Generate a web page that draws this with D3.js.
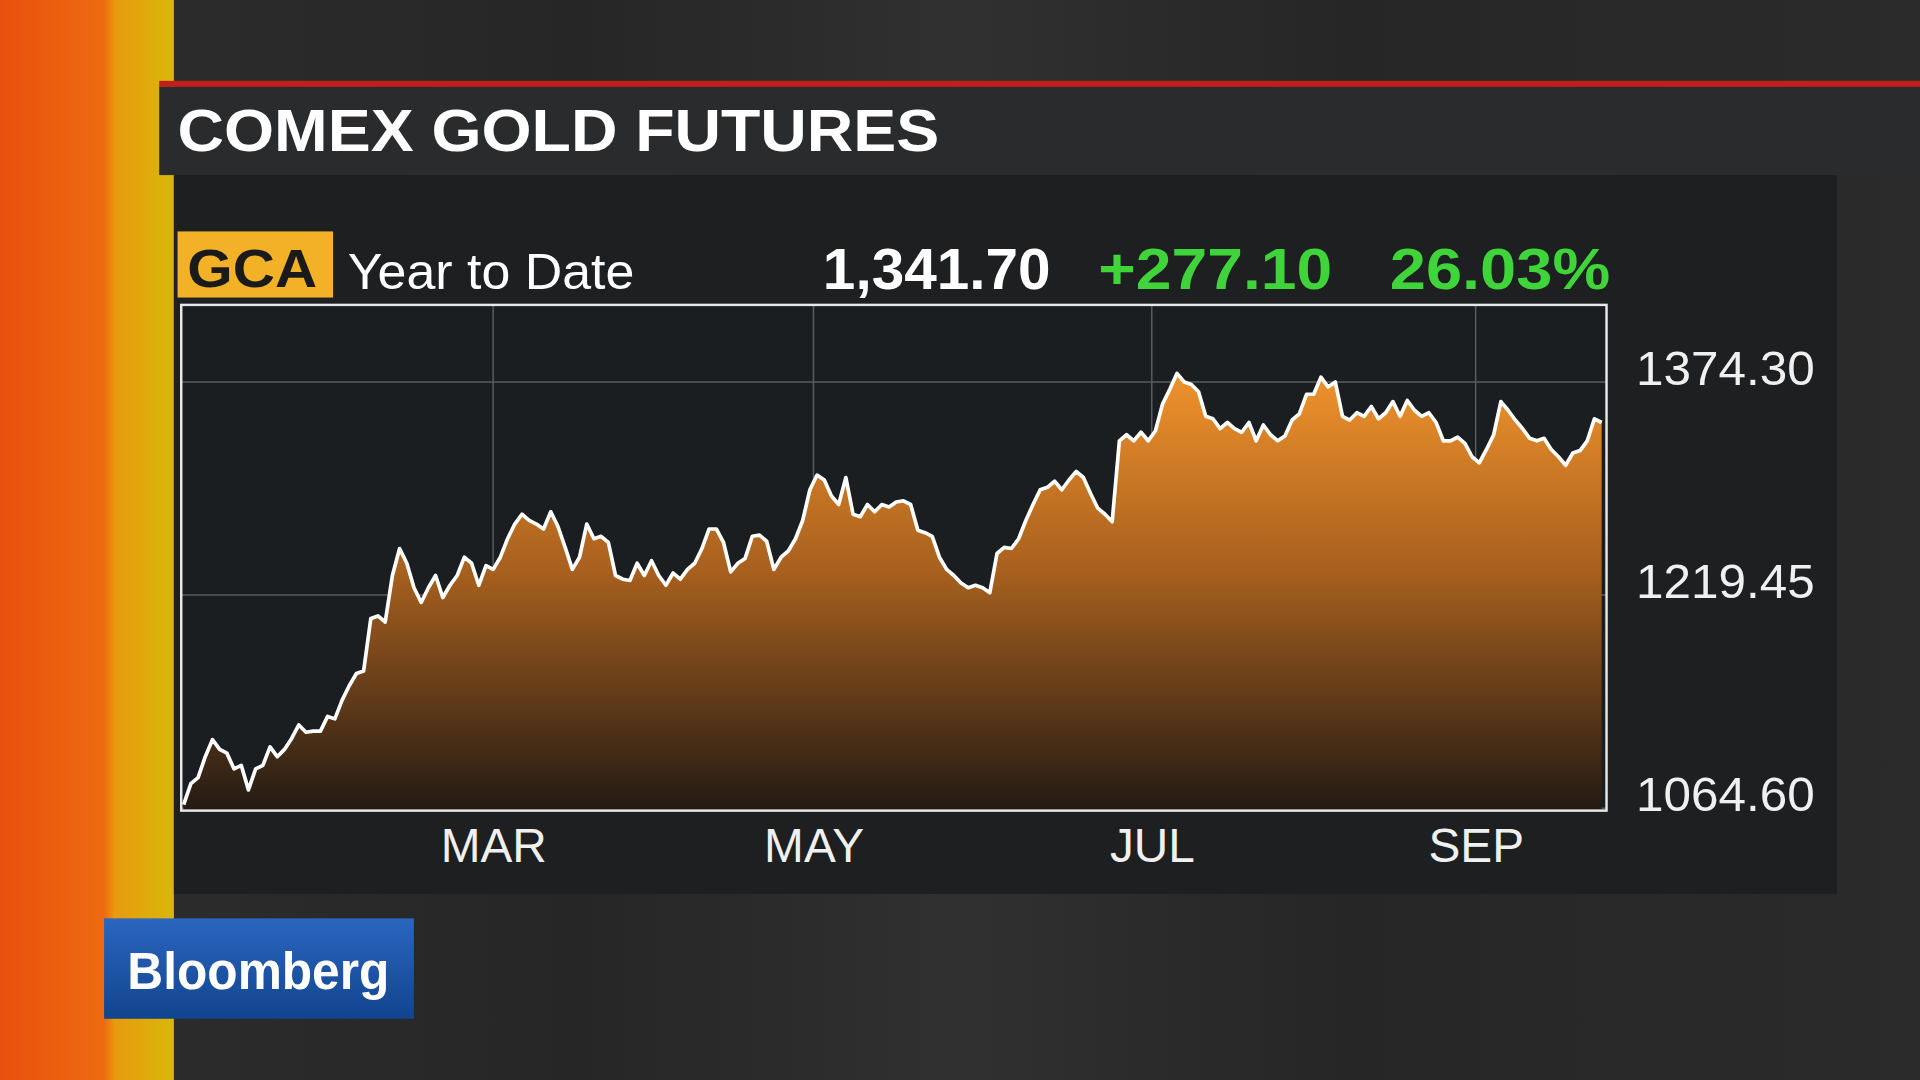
<!DOCTYPE html>
<html><head><meta charset="utf-8">
<script src="https://cdnjs.cloudflare.com/ajax/libs/d3/7.8.5/d3.min.js"></script>
<style>html,body{margin:0;padding:0;background:#222;overflow:hidden}</style>
</head><body><svg id="c" width="1920" height="1080" viewBox="0 0 1568 882"></svg>
<script>
// COMEX gold futures, year to date (one value per trading day, approx.)
const prices = [1067.2,1082.4,1086.8,1102.0,1114.4,1107.3,1104.6,1093.1,1095.7,1077.9,
1093.1,1095.7,1109.1,1102.0,1107.3,1115.3,1125.1,1119.8,1120.6,1120.6,
1131.3,1129.5,1142.9,1153.6,1162.5,1164.3,1202.5,1204.3,1199.9,1233.7,
1253.3,1242.6,1224.8,1214.1,1224.8,1233.7,1217.7,1226.6,1233.7,1247.0,
1242.6,1226.6,1240.8,1238.1,1247.0,1260.4,1271.1,1278.2,1273.7,1271.1,
1267.5,1280.0,1269.3,1254.1,1238.1,1247.0,1271.1,1260.4,1262.2,1257.7,
1233.7,1231.0,1230.1,1242.6,1233.7,1244.4,1233.7,1226.6,1235.5,1231.0,
1238.1,1242.6,1253.3,1267.5,1267.5,1257.7,1236.3,1242.6,1246.1,1262.2,
1263.0,1258.6,1238.1,1247.0,1251.5,1260.4,1273.7,1296.0,1306.7,1303.1,
1291.5,1285.3,1304.9,1278.2,1276.4,1285.3,1280.0,1285.3,1283.5,1287.1,
1288.0,1285.3,1266.6,1264.8,1262.2,1247.0,1238.1,1233.7,1228.3,1224.8,
1226.6,1224.8,1221.2,1249.7,1254.1,1253.3,1260.4,1273.7,1285.3,1296.0,
1297.8,1302.2,1296.0,1303.1,1309.3,1304.9,1293.3,1282.6,1278.2,1272.8,
1331.6,1336.0,1331.6,1337.8,1331.6,1338.7,1358.3,1369.0,1380.5,1374.3,
1372.5,1367.2,1349.4,1347.6,1340.5,1344.9,1340.5,1337.8,1344.9,1331.6,
1343.1,1336.0,1331.6,1335.1,1346.7,1351.2,1365.4,1365.4,1377.9,1370.7,
1374.3,1349.4,1346.7,1352.0,1349.4,1356.5,1347.6,1352.0,1360.1,1349.4,
1360.9,1353.8,1349.4,1352.0,1344.9,1331.6,1331.6,1334.3,1329.8,1320.0,
1315.6,1325.3,1336.0,1360.1,1353.8,1346.7,1340.5,1333.4,1331.6,1333.4,
1325.3,1320.0,1313.8,1322.7,1324.5,1331.6,1347.6,1344.9];
const monthLabels = ["MAR","MAY","JUL","SEP"];
const monthIdx = [43, 87.5, 134.5, 179.5];
const yTicks = [1064.60, 1219.45, 1374.30];
const title = "COMEX GOLD FUTURES";
const ticker = "GCA", period = "Year to Date";
const last = "1,341.70", change = "+277.10", pct = "26.03%";

const svg = d3.select("#c");
const defs = svg.append("defs");
const lg = (id, stops, vertical) => {
  const g = defs.append("linearGradient").attr("id", id)
    .attr("x1",0).attr("y1",0).attr("x2",vertical?0:1).attr("y2",vertical?1:0);
  stops.forEach(s => g.append("stop").attr("offset", s[0]).attr("stop-color", s[1]));
};
lg("bgL", [[0,"#e8500e"],[0.6,"#ee6a10"],[0.66,"#e89a10"],[1,"#d8b808"]], false);
lg("area", [[0,"#ef922c"],[0.45,"#a8601e"],[1,"#221a14"]], true);
lg("blue", [[0,"#2a66c0"],[1,"#12448e"]], true);
lg("bg", [[0,"#2e2e2e"],[0.3,"#262626"],[0.5,"#303030"],[0.7,"#262626"],[1,"#2b2b2b"]], false);

svg.append("rect").attr("width",1568).attr("height",882).attr("fill","url(#bg)");
svg.append("rect").attr("x",0).attr("width",142).attr("height",882).attr("fill","url(#bgL)");
const F = "Liberation Sans, Arial";
// title bar
svg.append("rect").attr("x",130).attr("y",66).attr("width",1438).attr("height",5).attr("fill","#c0201c");
svg.append("rect").attr("x",130).attr("y",71).attr("width",1438).attr("height",72).attr("fill","#2a2b2c");
svg.append("text").attr("x",145).attr("y",123).text(title).attr("textLength",622).attr("lengthAdjust","spacingAndGlyphs")
  .attr("fill","#fff").attr("font-family",F).attr("font-weight","bold").attr("font-size",48);
// panel
svg.append("rect").attr("x",142).attr("y",143).attr("width",1358).attr("height",587).attr("fill","#1d1f21");
svg.append("rect").attr("x",145).attr("y",189).attr("width",127).attr("height",54).attr("fill","#f2b126");
const txt = (xp, yp, s, fill, size, bold, len) => {
  const t = svg.append("text").attr("x",xp).attr("y",yp).text(s).attr("fill",fill)
    .attr("font-family",F).attr("font-size",size).attr("font-weight",bold?"bold":"normal");
  if (len) t.attr("textLength",len).attr("lengthAdjust","spacingAndGlyphs");
  return t;
};
txt(153,234,ticker,"#1a1a1a",44,true,106);
txt(284,236,period,"#fff",41,false,234);
txt(672,236,last,"#fff",47,true,186);
txt(897,236,change,"#3fd43a",47,true,191);
txt(1135,236,pct,"#3fd43a",47,true,180);

// plot
const L=148, R=1312, T=249, B=662;
svg.append("rect").attr("x",L).attr("y",T).attr("width",R-L).attr("height",B-T).attr("fill","#1b1e21");
const x = d3.scaleLinear().domain([0, prices.length-1]).range([150, 1308]);
const y = d3.scaleLinear().domain([1064.60, 1374.30]).range([660, 312]);
const grid = svg.append("g").attr("stroke","#5a5c5e").attr("stroke-width",1.2);
yTicks.forEach(v => grid.append("line").attr("x1",L).attr("x2",R).attr("y1",y(v)).attr("y2",y(v)));
monthIdx.forEach(i => grid.append("line").attr("x1",x(i)).attr("x2",x(i)).attr("y1",T).attr("y2",B));
svg.append("path").datum(prices).attr("fill","url(#area)")
  .attr("d", d3.area().x((d,i)=>x(i)).y0(B).y1(d=>y(d)));
svg.append("path").datum(prices).attr("fill","none").attr("stroke","#fff").attr("stroke-width",3).attr("stroke-linejoin","round")
  .attr("d", d3.line().x((d,i)=>x(i)).y(d=>y(d)));
svg.append("rect").attr("x",L).attr("y",T).attr("width",R-L).attr("height",B-T).attr("fill","none").attr("stroke","#e8e8e8").attr("stroke-width",2);

const yAxis = svg.append("g").attr("transform",`translate(${R},-11)`)
  .call(d3.axisRight(y).tickValues(yTicks).tickSize(0).tickPadding(24).tickFormat(d3.format(".2f")));
yAxis.select(".domain").remove();
yAxis.selectAll("text").attr("fill","#f0f0f0").attr("font-family",F).attr("font-size",40)
  .attr("textLength",146).attr("lengthAdjust","spacingAndGlyphs");
const xAxis = svg.append("g").attr("transform",`translate(0,${B})`)
  .call(d3.axisBottom(x).tickValues(monthIdx).tickSize(0).tickPadding(14).tickFormat((d,i)=>monthLabels[i]));
xAxis.select(".domain").remove();
xAxis.selectAll("text").attr("fill","#f0f0f0").attr("font-family",F).attr("font-size",39);

// Bloomberg logo
svg.append("rect").attr("x",85).attr("y",750).attr("width",253).attr("height",82).attr("fill","url(#blue)");
svg.append("text").attr("x",104).attr("y",808).text("Bloomberg").attr("textLength",214).attr("lengthAdjust","spacingAndGlyphs")
  .attr("fill","#fff").attr("font-family",F).attr("font-weight","bold").attr("font-size",42);
</script></body></html>
